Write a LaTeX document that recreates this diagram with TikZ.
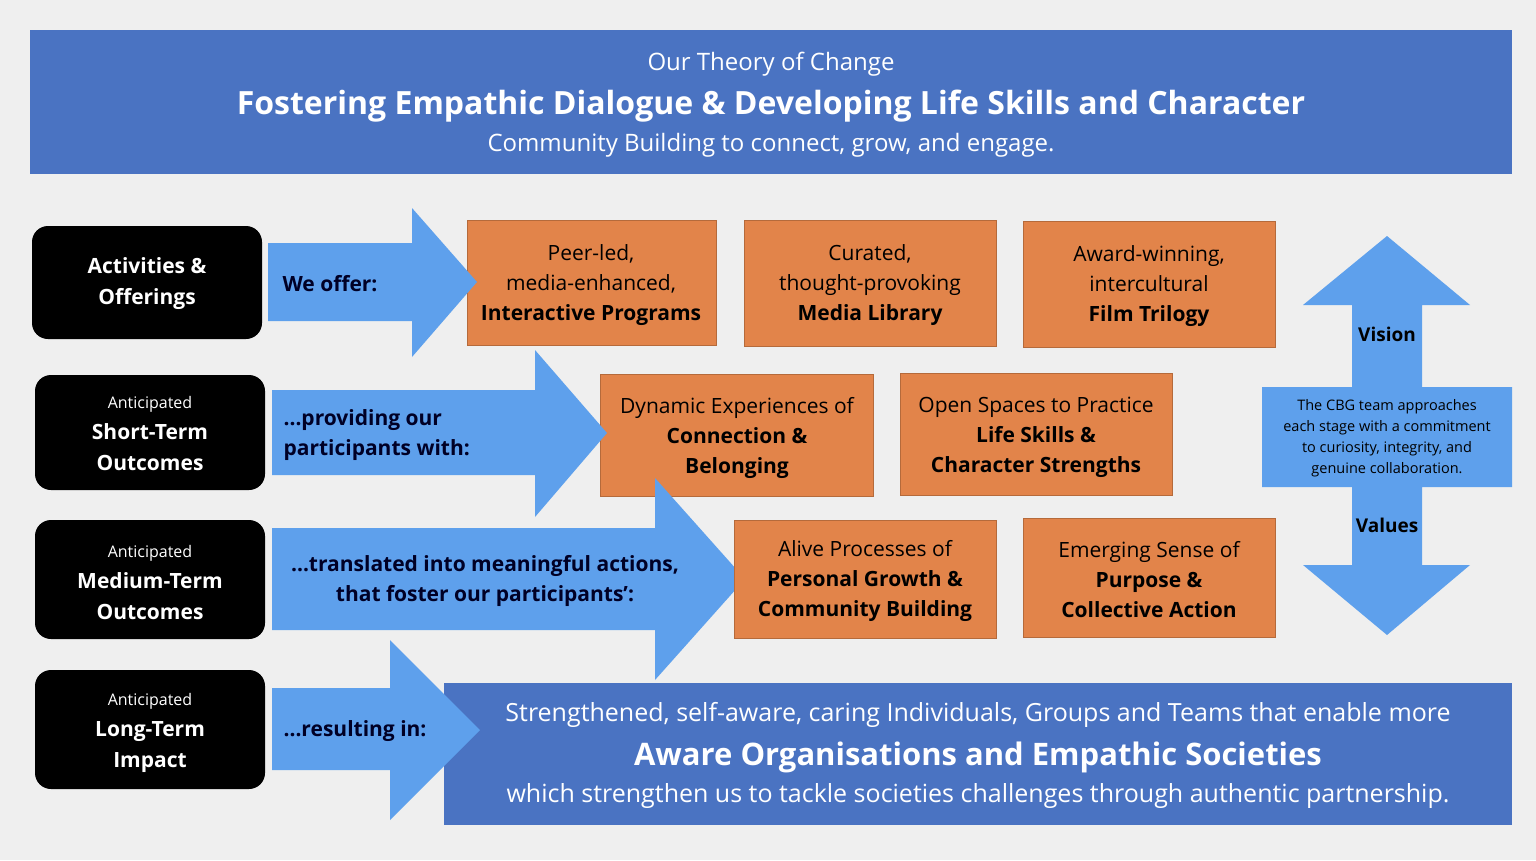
\documentclass[tikz,border=0pt]{standalone}
\usepackage{fontspec}
\setmainfont{Open Sans}
\definecolor{bg}{HTML}{EFEFEF}
\definecolor{dblue}{HTML}{4A73C2}
\definecolor{lblue}{HTML}{5EA0EC}
\definecolor{orng}{HTML}{E2844A}
\begin{document}
\begin{tikzpicture}[x=1pt,y=-1pt,
  ob/.style={fill=orng,draw=orng!80!black,line width=0.6pt},
  ot/.style={align=center,font=\fontsize{21}{30}\selectfont},
  bb/.style={fill=black,rounded corners=16pt},
  bt/.style={align=center,text=white,font=\fontsize{21}{31}\selectfont\bfseries},
  ar/.style={fill=lblue},
  artx/.style={align=left,font=\fontsize{21}{30}\selectfont\bfseries,text=black!85!blue}]
\fill[bg] (0,0) rectangle (1536,860);
\useasboundingbox (0,0) rectangle (1536,860);
% title
\fill[dblue] (30,30) rectangle (1512,174);
\node[text=white,font=\fontsize{24}{28}\selectfont] (t1) at (771,64) {Our Theory of Change};
\node[text=white,font=\fontsize{32}{36}\selectfont\bfseries] (t2) at (771,106) {Fostering Empathic Dialogue \& Developing Life Skills and Character};
\node[text=white,font=\fontsize{24}{28}\selectfont] (t3) at (771,145) {Community Building to connect, grow, and engage.};
% black boxes
\fill[bb] (32,226) rectangle (262,339);
\node[bt] (b1) at (147,284) {Activities \&\\Offerings};
\fill[bb] (35,375) rectangle (265,490);
\node[bt] (b2) at (150,434) {{\fontsize{16}{20}\selectfont\mdseries Anticipated}\\Short-Term\\Outcomes};
\fill[bb] (35,520) rectangle (265,639);
\node[bt] (b3) at (150,583) {{\fontsize{16}{20}\selectfont\mdseries Anticipated}\\Medium-Term\\Outcomes};
\fill[bb] (35,670) rectangle (265,789);
\node[bt] (b4) at (150,733) {{\fontsize{16}{20}\selectfont\mdseries Anticipated}\\Long-Term\\Impact};
% bottom box
\fill[dblue] (444,683) rectangle (1512,825);
% orange row1
\filldraw[ob] (467,220) rectangle (716,345);
\node[ot] (o1) at (591,285) {Peer-led,\\media-enhanced,\\\textbf{Interactive Programs}};
\filldraw[ob] (744,220) rectangle (996,346);
\node[ot] (o2) at (870,285) {Curated,\\thought-provoking\\\textbf{Media Library}};
\filldraw[ob] (1023,221) rectangle (1275,347);
\node[ot] (o3) at (1149,286) {Award-winning,\\intercultural\\\textbf{Film Trilogy}};
% arrow1
\fill[ar] (268,243) -- (412,243) -- (412,208) -- (477,282) -- (412,357) -- (412,321) -- (268,321) -- cycle;
\node[artx] (a1) at (330,284) {We offer:};
% orange row2
\filldraw[ob] (600,374) rectangle (873,496);
\node[ot] (o4) at (737,438) {Dynamic Experiences of\\\textbf{Connection \&}\\\textbf{Belonging}};
\filldraw[ob] (900,373) rectangle (1172,495);
\node[ot] (o5) at (1036,437) {Open Spaces to Practice\\\textbf{Life Skills \&}\\\textbf{Character Strengths}};
% arrow2
\fill[ar] (272,390) -- (535,390) -- (535,350) -- (607,433) -- (535,517) -- (535,475) -- (272,475) -- cycle;
\node[artx,anchor=west] (a2) at (280,435) {…providing our\\participants with:};
% arrow3
\fill[ar] (272,528) -- (655,528) -- (655,478) -- (745,579) -- (655,680) -- (655,630) -- (272,630) -- cycle;
\node[artx,align=center] (a3) at (485,581) {…translated into meaningful actions,\\that foster our participants’:};
% orange row3
\filldraw[ob] (734,520) rectangle (996,638);
\node[ot] (o6) at (865,581) {Alive Processes of\\\textbf{Personal Growth \&}\\\textbf{Community Building}};
\filldraw[ob] (1023,518) rectangle (1275,637);
\node[ot] (o7) at (1149,580) {Emerging Sense of\\\textbf{Purpose \&}\\\textbf{Collective Action}};
% arrow4
\fill[ar] (272,688) -- (390,688) -- (390,640) -- (480,730) -- (390,820) -- (390,770) -- (272,770) -- cycle;
\node[artx,anchor=west] (a4) at (280,731) {…resulting in:};
% bottom text
\node[text=white,font=\fontsize{25}{29}\selectfont] (l1) at (978,715) {Strengthened, self-aware, caring Individuals, Groups and Teams that enable more};
\node[text=white,font=\fontsize{31}{35}\selectfont\bfseries] (l2) at (978,757) {Aware Organisations and Empathic Societies};
\node[text=white,font=\fontsize{25}{29}\selectfont] (l3) at (978,796) {which strengthen us to tackle societies challenges through authentic partnership.};
% double arrow
\fill[ar] (1387,236) -- (1470,305) -- (1422,305) -- (1422,387) -- (1512,387) -- (1512,487) -- (1422,487) -- (1422,565) -- (1470,565) -- (1387,635) -- (1303,565) -- (1352,565) -- (1352,487) -- (1262,487) -- (1262,387) -- (1352,387) -- (1352,305) -- (1303,305) -- cycle;
\node[font=\fontsize{19}{22}\selectfont\bfseries] (vi) at (1387,334) {Vision};
\node[font=\fontsize{19}{22}\selectfont\bfseries] (va) at (1387,525) {Values};
\node[align=center,font=\fontsize{14.5}{21}\selectfont] (vt) at (1387,438) {The CBG team approaches\\each stage with a commitment\\to curiosity, integrity, and\\genuine collaboration.};
\end{tikzpicture}
\end{document}
